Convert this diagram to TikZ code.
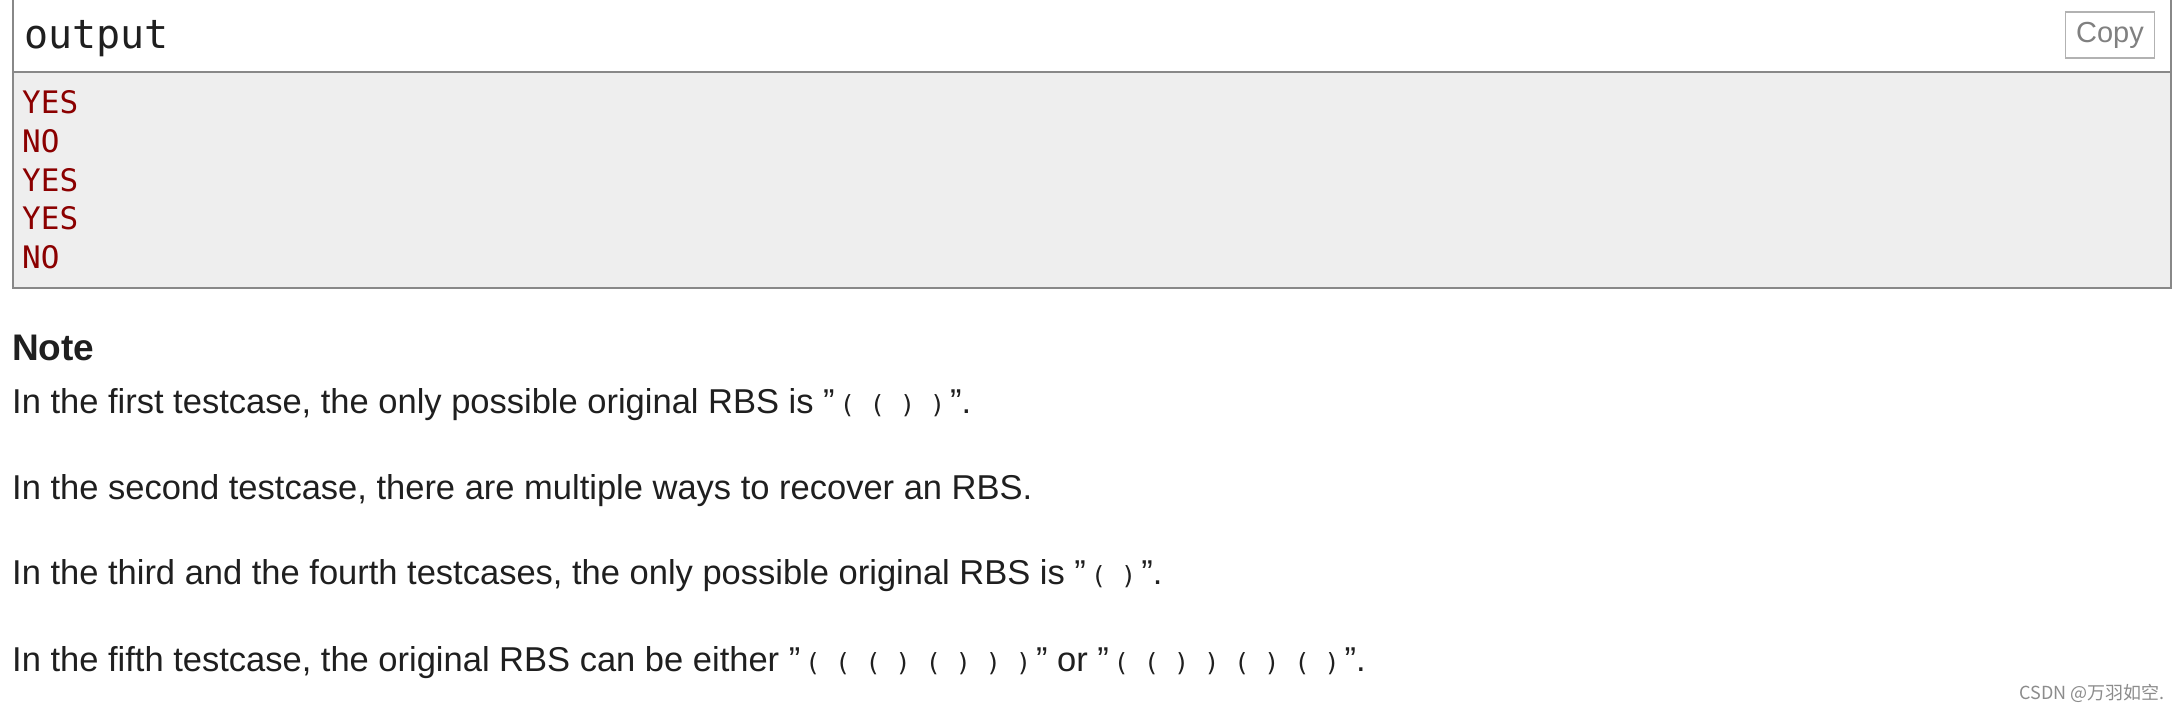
\documentclass[tikz,border=0pt]{standalone}
\usepackage{fontspec}
\setmainfont{Liberation Sans}
\setmonofont{DejaVu Sans Mono}
\newfontfamily\cjk{Noto Sans CJK SC}
\definecolor{boxgray}{HTML}{888888}
\definecolor{bodygray}{HTML}{EEEEEE}
\definecolor{ansred}{HTML}{8B0000}
\newcommand{\cd}[1]{\symbol{34}\hspace{5pt}{\ttfamily\fontsize{25}{25}\selectfont #1}\hspace{5pt}\symbol{34}}
\begin{document}
\begin{tikzpicture}[x=1pt,y=-1pt,
  ans/.style={anchor=west,inner sep=0,font=\ttfamily\fontsize{31}{31}\selectfont,text=ansred},
  para/.style={anchor=base west,inner sep=0,font=\fontsize{34.5}{34.5}\selectfont,text=black!88}]
\useasboundingbox (0,0) rectangle (2182,712);
\fill[white] (0,0) rectangle (2182,712);
\fill[bodygray] (13,72) rectangle (2171,288);
\draw[boxgray,line width=2] (13,-2) -- (13,288) -- (2171,288) -- (2171,-2);
\draw[boxgray,line width=2] (13,72) -- (2171,72);
\node[anchor=base west,inner sep=0,font=\ttfamily\fontsize{40}{40}\selectfont,text=black!88] (out) at (24,48) {output};
\node[draw=black!30,line width=1.5,minimum width=89,minimum height=46,inner sep=0,
  font=\fontsize{29}{29}\selectfont,text=black!50] (copy) at (2110,35) {Copy};
\node[ans] (a1) at (22,102) {YES};
\node[ans] (a2) at (22,141) {NO};
\node[ans] (a3) at (22,180) {YES};
\node[ans] (a4) at (22,218) {YES};
\node[ans] (a5) at (22,257) {NO};
\node[anchor=base west,inner sep=0,font=\bfseries\fontsize{37}{37}\selectfont,text=black!88] (note) at (12,360) {Note};
\node[para] (p1) at (12,413) {In the first testcase, the only possible original RBS is \cd{( ( ) )}.};
\node[para] (p2) at (12,499) {In the second testcase, there are multiple ways to recover an RBS.};
\node[para] (p3) at (12,584) {In the third and the fourth testcases, the only possible original RBS is \cd{( )}.};
\node[para] (p4) at (12,671) {In the fifth testcase, the original RBS can be either \cd{( ( ( ) ( ) ) )} or \cd{( ( ) ) ( ) ( )}.};
\node[anchor=east,inner sep=0,font=\cjk\fontsize{18}{18}\selectfont,text=black!45] (wm) at (2165,693) {CSDN @万羽如空.};
\end{tikzpicture}
\end{document}
